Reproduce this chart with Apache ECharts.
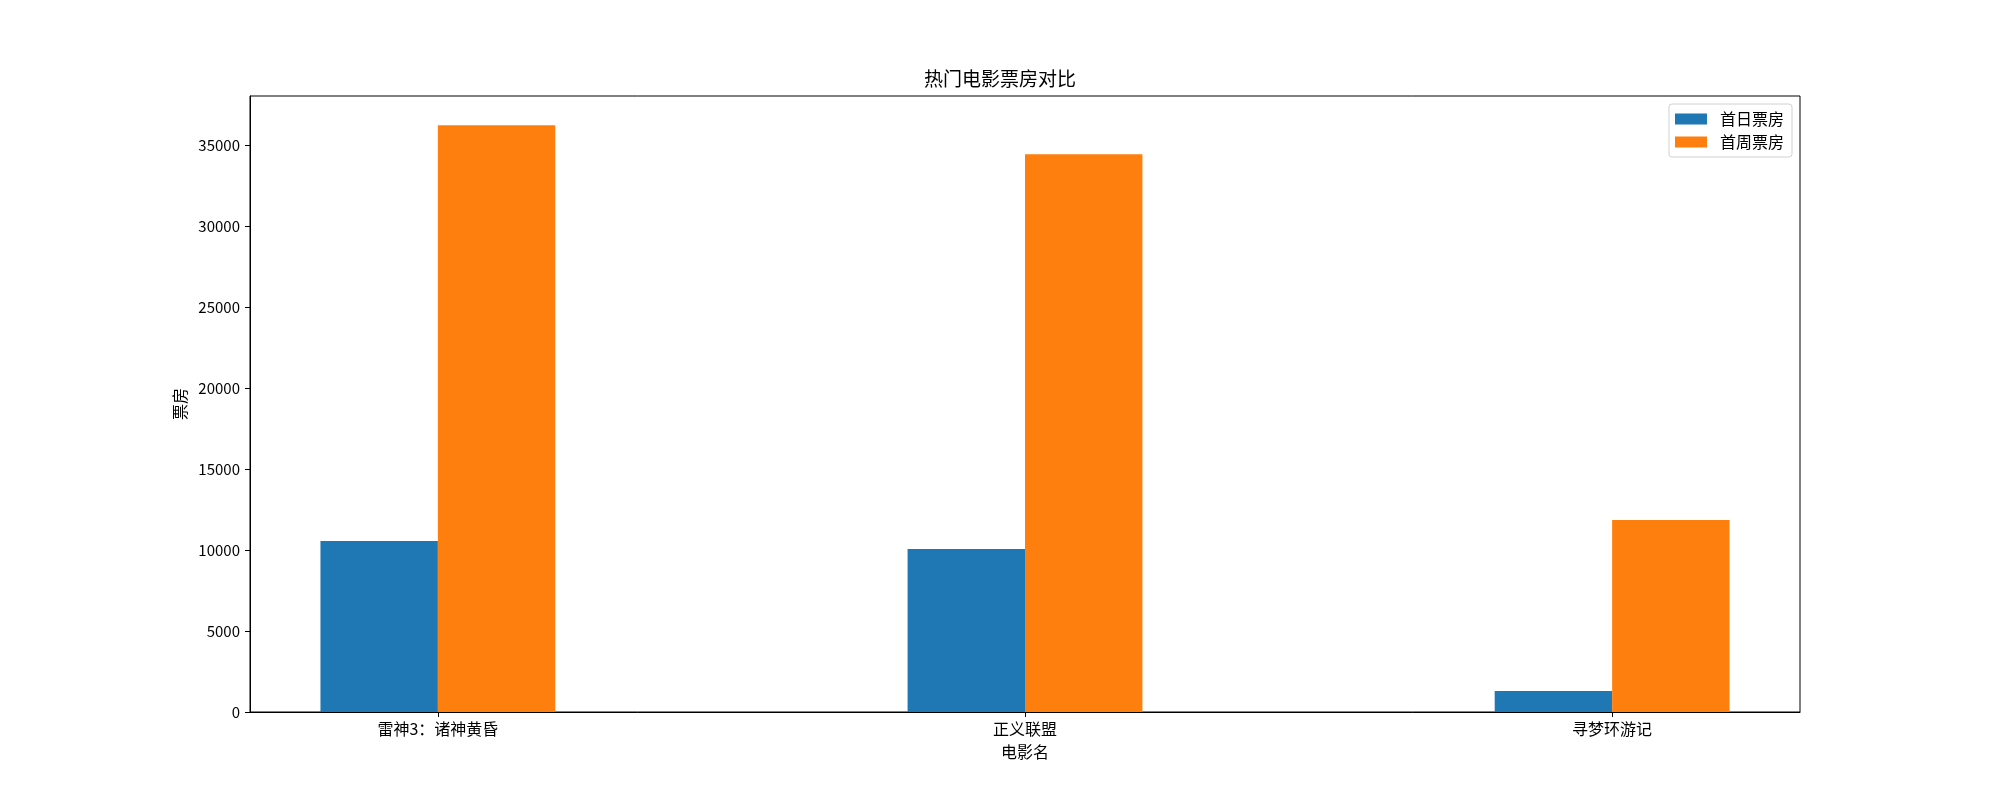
<!DOCTYPE html>
<html>
<head lang="zh">
<meta charset="UTF-8">
<title>热门电影票房对比</title>
<script type="text/javascript" src="https://cdn.jsdelivr.net/npm/echarts@6/dist/echarts.min.js"></script>
<style>
	html, body { margin: 0; padding: 0; background: #fff; }
	#main { width: 2000px; height: 800px; }
</style>
</head>
<body>
	<div id="main"></div>
	<script type="text/javascript">
		// 数据
		var movies = [ '雷神3：诸神黄昏', '正义联盟', '寻梦环游记' ];
		var firstDay = [ 10560, 10060, 1300 ];
		var firstWeek = [ 36230, 34440, 11850 ];
		var yTicks = [ 0, 5000, 10000, 15000, 20000, 25000, 30000, 35000 ];
		var xTicks = [ 0, 1, 2 ];

		var font = "'Noto Sans CJK SC', 'DejaVu Sans', sans-serif";
		var barW = 0.2;

		// 柱子中心点：首日在左，首周在右
		function pairs(vals, shift) {
			return vals.map(function(v, i) {
				return [ i + shift, v ];
			});
		}

		function drawBar(params, api) {
			var x = api.value(0), y = api.value(1);
			var p0 = api.coord([ x - barW / 2, y ]);
			var p1 = api.coord([ x + barW / 2, 0 ]);
			return {
				type : 'rect',
				shape : {
					x : p0[0],
					y : p0[1],
					width : p1[0] - p0[0],
					height : p1[1] - p0[1]
				},
				style : api.style()
			};
		}

		var yMax = Math.max.apply(null, firstWeek) * 1.05;

		var chart = echarts.init(document.getElementById('main'));
		var option = {
			animation : false,
			color : [ '#1f77b4', '#ff7f0e' ],
			textStyle : { fontFamily : font },
			title : {
				text : '热门电影票房对比',
				left : 'center',
				top : 69,
				padding : 0,
				textStyle : { fontSize : 19, fontWeight : 'normal', color : '#000', fontFamily : font }
			},
			legend : {
				orient : 'vertical',
				right : 208,
				top : 104,
				padding : [ 7, 8, 7, 6 ],
				itemWidth : 32,
				itemHeight : 11,
				itemGap : 7,
				borderColor : '#d0d0d0',
				borderWidth : 1,
				borderRadius : 3,
				icon : 'rect',
				textStyle : { fontSize : 16, color : '#000', padding : [ 0, 0, 0, 8 ], fontFamily : font },
				data : [ '首日票房', '首周票房' ]
			},
			grid : {
				left : 250,
				right : 200,
				top : 96,
				bottom : 88,
				show : true,
				borderColor : '#000',
				borderWidth : 1
			},
			xAxis : {
				type : 'value',
				min : -0.32,
				max : 2.32,
				name : '电影名',
				nameLocation : 'middle',
				nameGap : 32,
				nameTextStyle : { fontSize : 16, color : '#000', fontFamily : font },
				axisLine : { onZero : false, lineStyle : { color : '#000', width : 1 } },
				axisTick : { show : true, length : 5, customValues : xTicks, lineStyle : { color : '#000' } },
				axisLabel : {
					customValues : xTicks,
					margin : 9,
					fontSize : 16,
					color : '#000',
					formatter : function(v) {
						return movies[Math.round(v)];
					}
				},
				splitLine : { show : false }
			},
			yAxis : {
				type : 'value',
				min : 0,
				max : yMax,
				name : '票房',
				nameLocation : 'middle',
				nameGap : 60,
				nameTextStyle : { fontSize : 16, color : '#000', fontFamily : font },
				axisLine : { show : true, onZero : false, lineStyle : { color : '#000', width : 1 } },
				axisTick : { show : true, length : 5, customValues : yTicks, lineStyle : { color : '#000' } },
				axisLabel : {
					customValues : yTicks,
					margin : 10,
					fontSize : 15,
					color : '#000',
					formatter : function(v) {
						return String(v);
					}
				},
				splitLine : { show : false }
			},
			series : [ {
				name : '首日票房',
				type : 'custom',
				renderItem : drawBar,
				itemStyle : { color : '#1f77b4' },
				encode : { x : 0, y : 1 },
				data : pairs(firstDay, -0.1)
			}, {
				name : '首周票房',
				type : 'custom',
				renderItem : drawBar,
				itemStyle : { color : '#ff7f0e' },
				encode : { x : 0, y : 1 },
				data : pairs(firstWeek, 0.1)
			} ]
		};
		chart.setOption(option);
	</script>
</body>
</html>
